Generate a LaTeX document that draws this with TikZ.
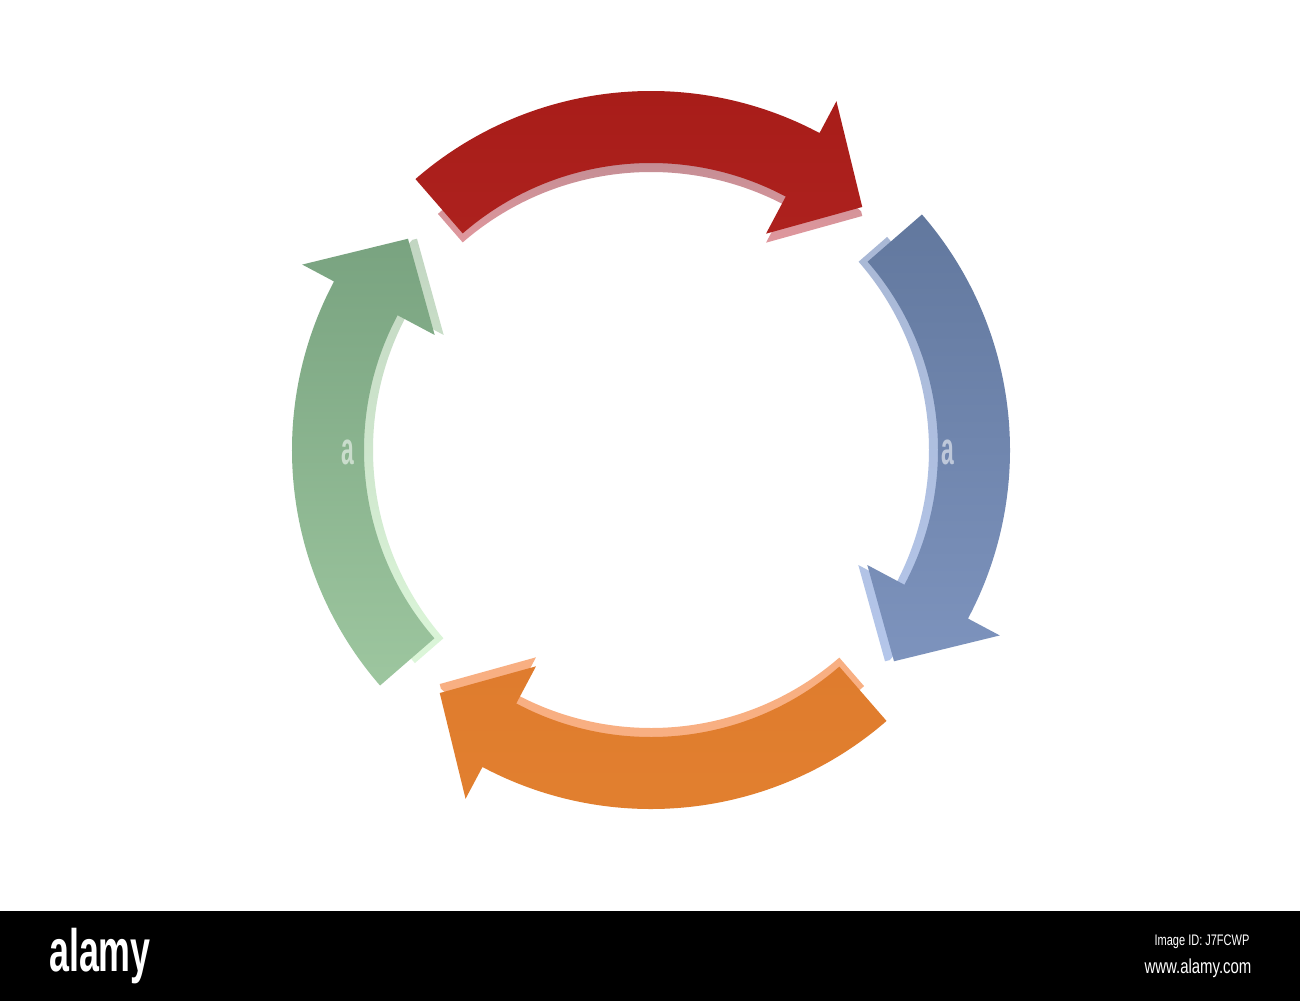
\documentclass[tikz,border=0pt]{standalone}
\usepackage{fontspec}
\setmainfont{Liberation Sans}

\definecolor{redface}{HTML}{A71C18}
\definecolor{redshade}{HTML}{AD211E}
\definecolor{redrim}{HTML}{A5848B}
\definecolor{redrimlow}{HTML}{E0979D}
\definecolor{blueface}{HTML}{62789E}
\definecolor{blueshade}{HTML}{7D93BD}
\definecolor{bluerim}{HTML}{A8B7D4}
\definecolor{bluerimlow}{HTML}{B4C6EA}
\definecolor{orangeface}{HTML}{DF7C2E}
\definecolor{orangeshade}{HTML}{E2802F}
\definecolor{orangerim}{HTML}{F8AF82}
\definecolor{orangerimlow}{HTML}{F8AF82}
\definecolor{greenface}{HTML}{79A380}
\definecolor{greenshade}{HTML}{9DC69F}
\definecolor{greenrim}{HTML}{C2D6C2}
\definecolor{greenrimlow}{HTML}{DDF8DA}

% one curved arrow of the cycle: tail angle, head base angle, tip angle
\newcommand{\cyclearrow}[3]{(#1:359) arc (#1:#2:359) -- (#2:395) -- (#3:322)
  -- (#2:245) -- (#2:287) arc (#2:#1:287) -- cycle}

\tikzset{
  rim/.style={top color=#1rim, bottom color=#1rimlow, draw=none},
  face/.style={top color=#1face, bottom color=#1shade, draw=none},
  wmark/.style={text=white, opacity=0.55, font=\bfseries\fontsize{26}{26}\selectfont, inner sep=0pt},
  brand/.style={text=white, inner sep=0pt}
}

\begin{document}
\begin{tikzpicture}[x=0.02cm, y=0.02cm]
  \useasboundingbox (-651,-551) rectangle (649,450);
  \fill[white] (-651,-551) rectangle (649,450);

  \foreach \tail/\base/\tip/\col in {131/62/49/red, 41/-28/-41/blue,
                                     -49/-118/-131/orange, -139/-208/-221/green}
  {
    \begin{scope}
      \clip (0,0) circle (318);
      \path[rim=\col, shift={({\tail+139}:9)}] \cyclearrow{\tail}{\base}{\tip};
    \end{scope}
    \path[face=\col] \cyclearrow{\tail}{\base}{\tip};
  }

  \node[wmark] (wmleft)  at (-303,-2) {\scalebox{0.5}[1]{a}};
  \node[wmark] (wmright) at (297,-2)  {\scalebox{0.5}[1]{a}};

  % bottom strip
  \fill[black] (-651,-551) rectangle (649,-461);
  \node[brand, font=\bfseries\fontsize{34}{34}\selectfont] (alamy) at (-551,-506)
    {\scalebox{0.6}[1]{alamy}};
  \node[brand, font=\fontsize{8.7}{8.7}\selectfont] (imageid) at (551,-492)
    {\scalebox{0.72}[1]{Image ID: J7FCWP}};
  \node[brand, font=\fontsize{11.5}{11.5}\selectfont] (site) at (547,-518)
    {\scalebox{0.74}[1]{www.alamy.com}};
\end{tikzpicture}
\end{document}
